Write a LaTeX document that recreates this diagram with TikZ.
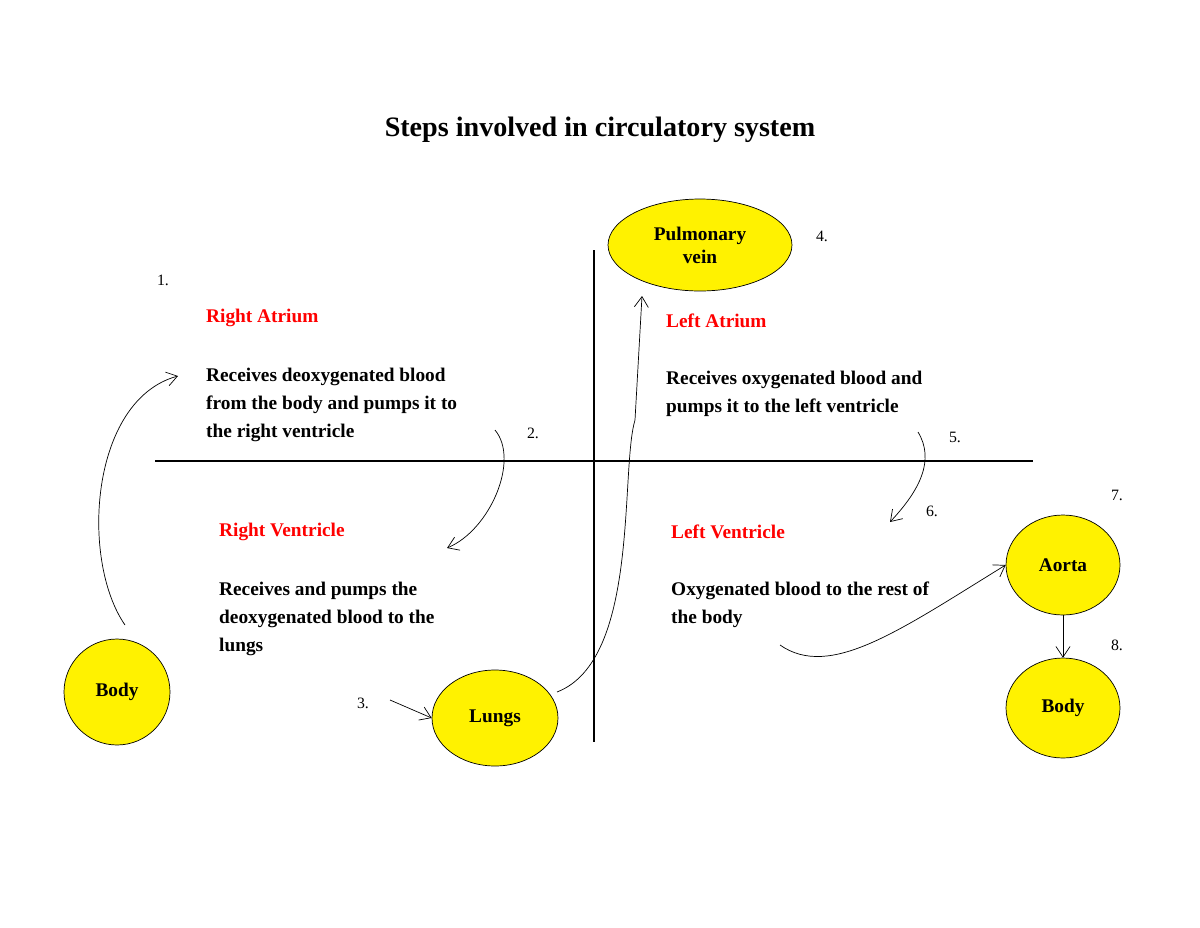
\documentclass[tikz,border=0pt]{standalone}
\usepackage{fontspec}
\setmainfont{Liberation Serif}
\usetikzlibrary{arrows.meta,shapes.geometric}
\begin{document}
\begin{tikzpicture}[x=0.02cm,y=-0.02cm,
  organ/.style={draw=black,fill=yellow,font=\bfseries\fontsize{11}{13}\selectfont,align=center,inner sep=0pt},
  head/.style={anchor=west,text=red,font=\bfseries\fontsize{11}{13}\selectfont},
  desc/.style={anchor=north west,align=left,font=\bfseries\fontsize{11}{16}\selectfont},
  num/.style={font=\fontsize{9}{11}\selectfont},
  flow/.style={thin,-{Straight Barb[length=6pt,width=8pt]}}]
\useasboundingbox (0,0) rectangle (1200,927);
\node (title) at (600,130) {\bfseries\fontsize{16}{19}\selectfont Steps involved in circulatory system};
\coordinate (vt) at (594,250); \coordinate (vb) at (594,742);
\coordinate (hl) at (155,461); \coordinate (hr) at (1033,461);
\draw[line width=1.2pt] (vt) -- (vb);
\draw[line width=1.2pt] (hl) -- (hr);
\node[organ,ellipse,minimum width=3.68cm,minimum height=1.84cm] (pv) at (700,245) {Pulmonary\\vein};
\node[organ,circle,minimum size=2.12cm] (body1) at (117,692) {Body};
\node[organ,ellipse,minimum width=2.52cm,minimum height=1.92cm] (lungs) at (495,718) {Lungs};
\node[organ,ellipse,minimum width=2.28cm,minimum height=2cm] (aorta) at (1063,565) {Aorta};
\node[organ,ellipse,minimum width=2.28cm,minimum height=2cm] (body2) at (1063,708) {Body};
\node[num] (n1) at (163,280) {1.};
\node[head] (ra) at (200,318) {Right Atrium};
\node[desc] (rad) at (200,362) {Receives deoxygenated blood\\from the body and pumps it to\\the right ventricle};
\node[num] (n2) at (533,433) {2.};
\node[head] (rv) at (213,532) {Right Ventricle};
\node[desc] (rvd) at (213,576) {Receives and pumps the\\deoxygenated blood to the\\lungs};
\node[num] (n3) at (363,703) {3.};
\node[num] (n4) at (822,236) {4.};
\node[head] (la) at (660,321) {Left Atrium};
\node[desc] (lad) at (660,365) {Receives oxygenated blood and\\pumps it to the left ventricle};
\node[num] (n5) at (955,437) {5.};
\node[num] (n6) at (932,511) {6.};
\node[num] (n7) at (1117,495) {7.};
\node[head] (lv) at (665,532) {Left Ventricle};
\node[desc] (lvd) at (665,576) {Oxygenated blood to the rest of\\the body};
\node[num] (n8) at (1117,645) {8.};
\coordinate (a1s) at (125,625); \coordinate (a1e) at (178,376);
\draw[flow] (a1s) .. controls (80,560) and (90,400) .. (a1e);
\coordinate (a2s) at (495,430); \coordinate (a2e) at (447,548);
\draw[flow] (a2s) .. controls (520,460) and (490,530) .. (a2e);
\coordinate (a3s) at (390,700);
\draw[flow] (a3s) -- (lungs.west);
\coordinate (a4s) at (557,692); \coordinate (a4e) at (642,296);
\draw[flow] (a4s) .. controls (640,660) and (620,470) .. (635,420) -- (a4e);
\coordinate (a5s) at (918,432); \coordinate (a5e) at (890,522);
\draw[flow] (a5s) .. controls (935,460) and (920,490) .. (a5e);
\coordinate (a7s) at (780,645);
\draw[flow] (a7s) .. controls (830,680) and (900,630) .. (aorta.west);
\draw[flow] (aorta.south) -- (body2.north);
\end{tikzpicture}
\end{document}
